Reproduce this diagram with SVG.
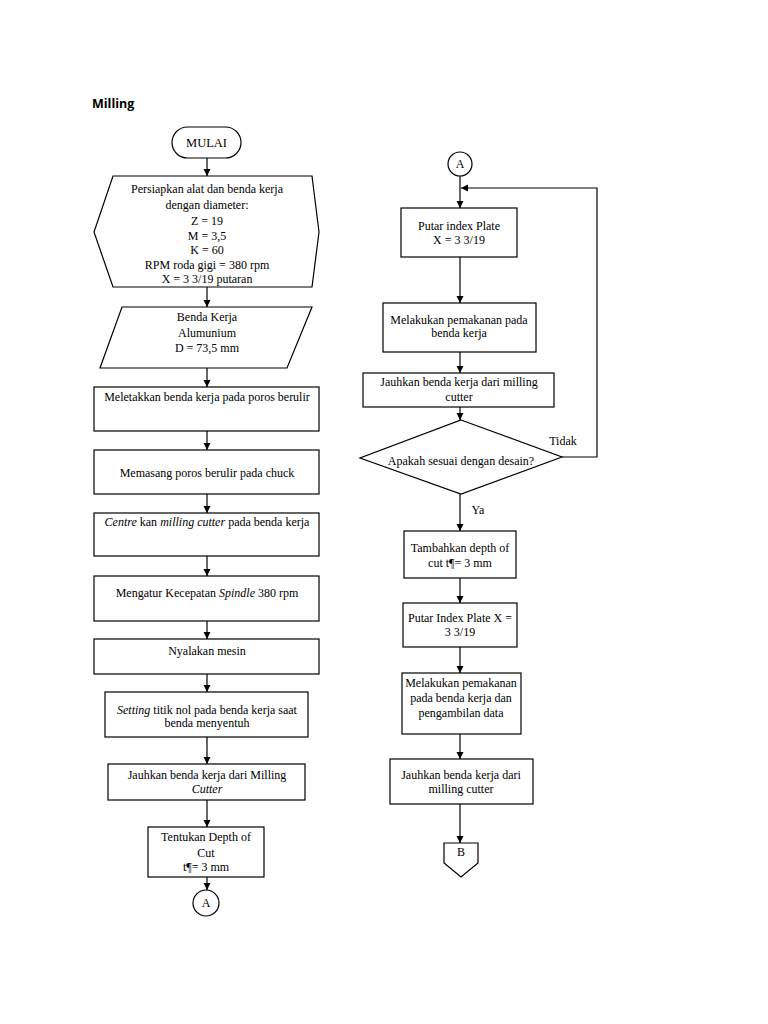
<svg xmlns="http://www.w3.org/2000/svg" width="768" height="1024" viewBox="0 0 768 1024">
<defs>
<style>
.s{fill:#fff;stroke:#000;stroke-width:1.2}
.t{font-family:"Liberation Serif","Times New Roman",serif;font-size:12px;fill:#000;text-anchor:middle}
.i{font-style:italic}
.c{fill:none;stroke:#000;stroke-width:1.2}
</style>
<marker id="ar" markerWidth="8" markerHeight="8" refX="7" refY="4" orient="auto" markerUnits="userSpaceOnUse">
<path d="M0,0.5 L7,4 L0,7.5 Z" fill="#000"/>
</marker>
</defs>
<rect width="768" height="1024" fill="#fff"/>
<text x="92" y="108" style="font-family:'Open Sans','Liberation Sans',sans-serif;font-size:12.5px;font-weight:bold">Milling</text>

<g id="connectors">
<line class="c" x1="207" y1="158" x2="207" y2="176" marker-end="url(#ar)"/>
<line class="c" x1="207" y1="287" x2="207" y2="307" marker-end="url(#ar)"/>
<line class="c" x1="207" y1="368" x2="207" y2="387" marker-end="url(#ar)"/>
<line class="c" x1="207" y1="431" x2="207" y2="450" marker-end="url(#ar)"/>
<line class="c" x1="207" y1="494" x2="207" y2="513" marker-end="url(#ar)"/>
<line class="c" x1="207" y1="556" x2="207" y2="576" marker-end="url(#ar)"/>
<line class="c" x1="207" y1="621" x2="207" y2="639" marker-end="url(#ar)"/>
<line class="c" x1="207" y1="674" x2="207" y2="692" marker-end="url(#ar)"/>
<line class="c" x1="207" y1="737" x2="207" y2="764" marker-end="url(#ar)"/>
<line class="c" x1="207" y1="800" x2="207" y2="827" marker-end="url(#ar)"/>
<line class="c" x1="207" y1="877" x2="207" y2="890" marker-end="url(#ar)"/>

<line class="c" x1="460" y1="176" x2="460" y2="208" marker-end="url(#ar)"/>
<polyline class="c" points="562,457 597,457 597,188 461,188" marker-end="url(#ar)"/>
<line class="c" x1="460" y1="257" x2="460" y2="303" marker-end="url(#ar)"/>
<line class="c" x1="460" y1="352" x2="460" y2="373" marker-end="url(#ar)"/>
<line class="c" x1="460" y1="407" x2="460" y2="420" marker-end="url(#ar)"/>
<line class="c" x1="460" y1="494" x2="460" y2="531" marker-end="url(#ar)"/>
<line class="c" x1="460" y1="578" x2="460" y2="603" marker-end="url(#ar)"/>
<line class="c" x1="460" y1="647" x2="460" y2="673" marker-end="url(#ar)"/>
<line class="c" x1="460" y1="734" x2="460" y2="759" marker-end="url(#ar)"/>
<line class="c" x1="460" y1="804" x2="460" y2="843" marker-end="url(#ar)"/>
<text class="t" x="563" y="445">Tidak</text>
<text class="t" x="478" y="514">Ya</text>
</g>

<g id="mulai">
<rect class="s" x="172" y="127" width="69" height="31" rx="15.5"/>
<text class="t" x="206.5" y="146.5" style="font-size:12.5px">MULAI</text>
</g>

<g id="persiapkan">
<polygon class="s" points="113,176 312,176 319,232 312,287 113,287 94,232"/>
<text class="t" x="207" y="193">Persiapkan alat dan benda kerja</text>
<text class="t" x="207" y="209">dengan diameter:</text>
<text class="t" x="207" y="225">Z = 19</text>
<text class="t" x="207" y="240">M = 3,5</text>
<text class="t" x="207" y="254">K = 60</text>
<text class="t" x="207" y="269">RPM roda gigi = 380 rpm</text>
<text class="t" x="207" y="283">X = 3 3/19 putaran</text>
</g>

<g id="benda">
<polygon class="s" points="122,307 312,307 287,368 100,368"/>
<text class="t" x="207" y="321">Benda Kerja</text>
<text class="t" x="207" y="337">Alumunium</text>
<text class="t" x="207" y="352">D = 73,5 mm</text>
</g>

<g id="meletakkan">
<rect class="s" x="94" y="387" width="225" height="44"/>
<text class="t" x="207" y="401">Meletakkan benda kerja pada poros berulir</text>
</g>

<g id="memasang">
<rect class="s" x="94" y="450" width="225" height="44"/>
<text class="t" x="207" y="477">Memasang poros berulir pada chuck</text>
</g>

<g id="centre">
<rect class="s" x="94" y="513" width="225" height="43"/>
<text class="t" x="207" y="526"><tspan class="i">Centre</tspan> kan <tspan class="i">milling cutter</tspan> pada benda kerja</text>
</g>

<g id="mengatur">
<rect class="s" x="94" y="576" width="225" height="45"/>
<text class="t" x="207" y="597">Mengatur Kecepatan <tspan class="i">Spindle</tspan> 380 rpm</text>
</g>

<g id="nyalakan">
<rect class="s" x="94" y="639" width="225" height="35"/>
<text class="t" x="207" y="655">Nyalakan mesin</text>
</g>

<g id="setting">
<rect class="s" x="105" y="692" width="203" height="45"/>
<text class="t" x="207" y="714"><tspan class="i">Setting</tspan> titik nol pada benda kerja saat</text>
<text class="t" x="207" y="727">benda menyentuh</text>
</g>

<g id="jauhkan1">
<rect class="s" x="108" y="764" width="197" height="36"/>
<text class="t" x="207" y="779">Jauhkan benda kerja dari Milling</text>
<text class="t i" x="207" y="793">Cutter</text>
</g>

<g id="tentukan">
<rect class="s" x="148" y="827" width="116" height="50"/>
<text class="t" x="206" y="841">Tentukan Depth of</text>
<text class="t" x="206" y="857">Cut</text>
<text class="t" x="206" y="871">t¶= 3 mm</text>
</g>

<g id="a1">
<circle class="s" cx="206" cy="903" r="13"/>
<text class="t" x="206" y="907">A</text>
</g>

<g id="a2">
<circle class="s" cx="460" cy="164" r="12"/>
<text class="t" x="460" y="168">A</text>
</g>

<g id="putar1">
<rect class="s" x="401" y="208" width="116" height="49"/>
<text class="t" x="459" y="230">Putar index Plate</text>
<text class="t" x="459" y="244">X = 3 3/19</text>
</g>

<g id="melakukan1">
<rect class="s" x="383" y="303" width="153" height="49"/>
<text class="t" x="459" y="324">Melakukan pemakanan pada</text>
<text class="t" x="459" y="337">benda kerja</text>
</g>

<g id="jauhkan2">
<rect class="s" x="363" y="373" width="191" height="34"/>
<text class="t" x="459" y="386">Jauhkan benda kerja dari milling</text>
<text class="t" x="459" y="401">cutter</text>
</g>

<g id="apakah">
<polygon class="s" points="461,420 562,457 461,494 360,458"/>
<text class="t" x="461" y="465">Apakah sesuai dengan desain?</text>
</g>

<g id="tambahkan">
<rect class="s" x="404" y="531" width="112" height="47"/>
<text class="t" x="460" y="552">Tambahkan depth of</text>
<text class="t" x="460" y="567">cut t¶= 3 mm</text>
</g>

<g id="putar2">
<rect class="s" x="403" y="603" width="114" height="44"/>
<text class="t" x="460" y="622">Putar Index Plate X =</text>
<text class="t" x="460" y="636">3 3/19</text>
</g>

<g id="melakukan2">
<rect class="s" x="402" y="673" width="119" height="61"/>
<text class="t" x="461" y="687">Melakukan pemakanan</text>
<text class="t" x="461" y="702">pada benda kerja dan</text>
<text class="t" x="461" y="717">pengambilan data</text>
</g>

<g id="jauhkan3">
<rect class="s" x="390" y="759" width="143" height="45"/>
<text class="t" x="461" y="779">Jauhkan benda kerja dari</text>
<text class="t" x="461" y="793">milling cutter</text>
</g>

<g id="b">
<polygon class="s" points="444,843 478,843 478,863 461,877 444,863"/>
<text class="t" x="461" y="856">B</text>
</g>
</svg>
